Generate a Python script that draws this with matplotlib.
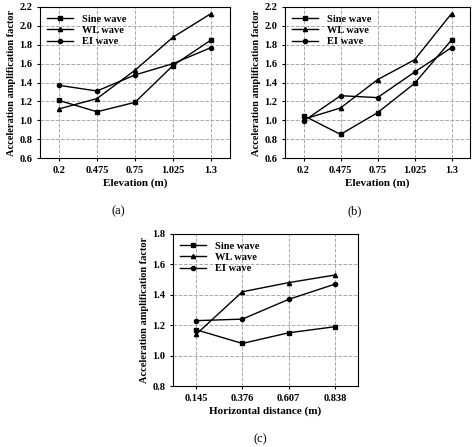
import matplotlib
matplotlib.use("Agg")
import matplotlib.pyplot as plt

plt.rcParams['font.family'] = ['Liberation Serif']
plt.rcParams['font.weight'] = 'bold'

elev = ['0.2', '0.475', '0.75', '1.025', '1.3']
a_sine = [1.21, 1.09, 1.19, 1.58, 1.85]
a_wl = [1.12, 1.23, 1.53, 1.88, 2.13]
a_ei = [1.37, 1.31, 1.48, 1.60, 1.77]
b_sine = [1.05, 0.85, 1.08, 1.39, 1.85]
b_wl = [1.01, 1.13, 1.43, 1.64, 2.13]
b_ei = [0.99, 1.26, 1.24, 1.51, 1.77]
hdist = ['0.145', '0.376', '0.607', '0.838']
c_sine = [1.17, 1.08, 1.15, 1.19]
c_wl = [1.14, 1.42, 1.48, 1.53]
c_ei = [1.23, 1.24, 1.37, 1.47]

W, H = 474, 447
fig = plt.figure(figsize=(W/100, H/100), dpi=100)

def mk(rect, xl, series, ylim, yticks, xlabel):
    l, t, r, b = rect
    ax = fig.add_axes([l/W, 1-b/H, (r-l)/W, (b-t)/H])
    x = list(range(len(xl)))
    for ys, m, lab in zip(series, ['s', '^', 'o'], ['Sine wave', 'WL wave', 'EI wave']):
        ax.plot(x, ys, color='black', marker=m, ms=3, lw=1, label=lab)
    ax.set_xlim(-0.5, len(xl)-0.5)
    ax.set_ylim(*ylim)
    ax.set_yticks(yticks)
    ax.set_yticklabels([f'{v:.1f}' for v in yticks])
    ax.set_xticks(x)
    ax.set_xticklabels(xl)
    ax.tick_params(labelsize=7.5, length=2, direction='out')
    ax.grid(True, ls='--', color='#aaaaaa', lw=0.7)
    ax.set_xlabel(xlabel, fontsize=8, fontweight='bold', labelpad=3)
    ax.set_ylabel('Acceleration amplification factor', fontsize=7.5, fontweight='bold', labelpad=2)
    ax.legend(loc='upper left', frameon=False, handlelength=2.5,
              borderaxespad=0.3, labelspacing=0.2, prop={'weight': 'bold', 'size': 7.5})
    return ax

yt = [0.6, 0.8, 1.0, 1.2, 1.4, 1.6, 1.8, 2.0, 2.2]
mk((40, 7, 230, 158), elev, [a_sine, a_wl, a_ei], (0.6, 2.2), yt, 'Elevation (m)')
mk((285, 7, 470, 158), elev, [b_sine, b_wl, b_ei], (0.6, 2.2), yt, 'Elevation (m)')
mk((173, 234, 358, 386), hdist, [c_sine, c_wl, c_ei], (0.8, 1.8), [0.8, 1.0, 1.2, 1.4, 1.6, 1.8], 'Horizontal distance (m)')

fig.text(118/W, 1-211/H, '(a)', ha='center', va='center', fontsize=9, fontweight='normal')
fig.text(355/W, 1-211/H, '(b)', ha='center', va='center', fontsize=9, fontweight='normal')
fig.text(260/W, 1-439/H, '(c)', ha='center', va='center', fontsize=9, fontweight='normal')

fig.savefig('out.png', dpi=100)
